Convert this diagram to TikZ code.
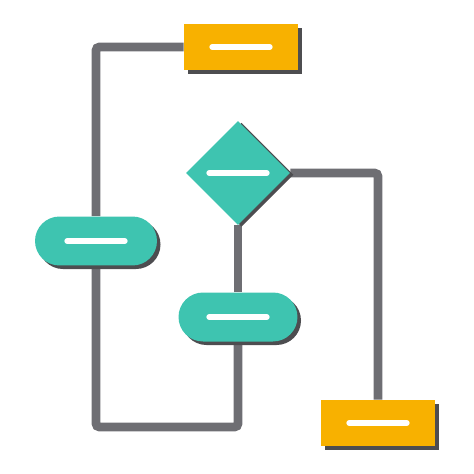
\documentclass[tikz,border=0pt]{standalone}
\usepackage{tikz}
\usetikzlibrary{shapes.geometric,shadows,backgrounds,positioning}

\definecolor{flowyellow}{HTML}{F8B100}
\definecolor{flowteal}{HTML}{3EC4B0}
\definecolor{flowgray}{HTML}{6E6E73}
\definecolor{flowshadow}{HTML}{4D4D50}

\begin{document}
\begin{tikzpicture}[x=0.02cm, y=-0.02cm,
    box/.style={rectangle, fill=flowyellow, inner sep=0pt, minimum width=2.28cm, minimum height=0.92cm,
        drop shadow={shadow xshift=2pt, shadow yshift=-2pt, fill=flowshadow, opacity=1}},
    pill/.style={rectangle, rounded corners=0.49cm, fill=flowteal, inner sep=0pt, minimum height=0.98cm,
        drop shadow={shadow xshift=2pt, shadow yshift=-2pt, fill=flowshadow, opacity=1}},
    choice/.style={diamond, aspect=1, fill=flowteal, inner sep=0pt, minimum size=2.08cm,
        drop shadow={shadow xshift=2pt, shadow yshift=-1pt, fill=flowshadow, opacity=1}},
    link/.style={draw=flowgray, line width=5pt, rounded corners=2pt},
    textbar/.style={draw=white, line width=3pt, line cap=round}]

    \useasboundingbox (0,0) rectangle (474,474);

    % Shapes
    \node[box] (start) at (241,47) {};
    \node[pill, minimum width=2.44cm] (proc1) at (96,241) {};
    \node[choice] (decide) at (238,173) {};
    \node[pill, minimum width=2.38cm] (proc2) at (238,317) {};
    \node[box] (stop) at (378,423) {};

    % White bars inside the shapes
    \foreach \n in {start, decide, proc1, proc2, stop}
        \draw[textbar] ([xshift=-0.58cm]\n.center) -- ([xshift=0.58cm]\n.center);

    % Connectors behind the shapes
    \coordinate (loopbottom) at (167,427);
    \begin{scope}[on background layer]
        \draw[link] (start.west) -| (proc1.north);
        \draw[link] (proc1.south) |- (loopbottom) -| (proc2.south);
        \draw[link] (proc2.north) -- (decide.south);
        \draw[link] (decide.east) -| (stop.north);
    \end{scope}
\end{tikzpicture}
\end{document}
